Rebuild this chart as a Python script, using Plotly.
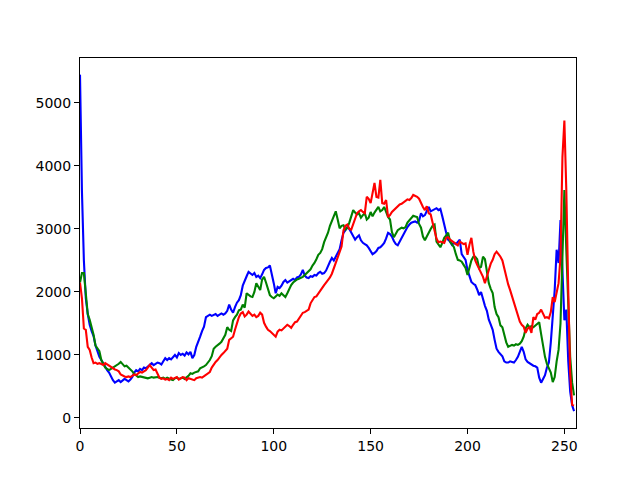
import plotly.graph_objects as go

bins = list(range(256))

blue = [5450,3600,2500,1900,1650,1480,1380,1300,1150,1050,
970,920,860,820,760,720,650,600,560,580,
600,570,590,620,600,580,610,650,720,760,
740,780,760,800,790,820,850,870,840,860,
880,870,850,900,950,920,950,930,970,1000,
960,1030,1000,1020,990,1040,1010,1050,950,1000,
1130,1200,1290,1380,1450,1600,1620,1640,1620,1630,
1650,1620,1640,1660,1640,1660,1700,1800,1720,1670,
1760,1830,1870,1950,2100,2190,2250,2320,2290,2270,
2300,2240,2260,2220,2280,2350,2380,2390,2420,2300,
2140,1980,2080,2060,2100,2160,2190,2150,2170,2200,
2210,2190,2230,2240,2280,2350,2260,2230,2220,2250,
2240,2270,2260,2300,2320,2290,2300,2340,2420,2480,
2540,2500,2560,2620,2680,2820,2940,2980,3030,3000,
2950,2880,2830,2870,2900,2820,2780,2760,2740,2700,
2640,2600,2620,2650,2700,2710,2740,2780,2850,2940,
2920,2880,2810,2760,2740,2800,2860,2900,2960,3030,
3070,3100,3110,3120,3100,3130,3250,3200,3220,3300,
3350,3280,3300,3320,3330,3300,3320,3200,3050,2940,
2830,2800,2750,2780,2760,2800,2830,2600,2550,2510,
2350,2250,2160,2130,2110,2040,1950,2000,1870,1780,
1700,1560,1480,1400,1240,1100,1050,1020,980,900,
880,880,900,890,880,920,970,1050,1130,1050,
930,890,870,840,830,820,800,640,560,620,
680,800,880,1200,1600,2030,2670,2460,3140,2200,
1550,1720,900,420,200,110]

green = [2150,2300,2300,1950,1650,1560,1450,1320,1150,1100,
1060,920,850,800,780,760,780,800,810,830,
860,890,850,820,830,800,780,740,700,680,
650,660,650,640,640,630,640,650,640,650,
650,640,630,640,620,640,620,610,600,630,
640,620,630,640,620,640,670,710,700,720,
730,740,790,800,820,840,880,920,980,1100,
1130,1150,1180,1210,1270,1320,1440,1400,1380,1550,
1600,1640,1710,1720,1800,1750,1980,1950,1930,1920,
2000,2140,2080,2030,2200,2240,2150,2030,1950,1920,
1900,1930,1960,1940,1980,1950,1920,1980,2050,2110,
2150,2180,2200,2210,2220,2240,2270,2300,2330,2360,
2420,2460,2520,2590,2620,2680,2790,2860,2940,3050,
3130,3200,3280,3150,3010,3050,3060,2990,3020,3100,
3200,3300,3260,3230,3250,3180,3220,3250,3150,3180,
3270,3200,3260,3300,3350,3280,3300,3350,3260,3190,
3150,2950,2870,2920,2980,3000,3020,3010,3030,3100,
3140,3180,3210,3200,3190,3080,3020,2880,2820,2880,
2950,3000,3050,3070,2800,2760,2710,2780,2860,2900,
2940,2800,2760,2710,2600,2510,2500,2480,2430,2380,
2270,2400,2500,2560,2560,2520,2380,2400,2560,2520,
2300,2140,2050,1985,1760,1650,1600,1470,1440,1320,
1200,1130,1150,1160,1150,1170,1160,1180,1220,1290,
1420,1480,1440,1460,1440,1470,1500,1520,1330,1150,
970,860,790,720,570,650,900,1080,1500,2550,
3620,2670,1760,970,560,360]

red = [2150,1900,1420,1400,1130,1080,960,870,880,860,
870,850,840,870,850,820,810,790,770,760,
740,690,670,660,650,660,650,670,690,680,
700,730,720,740,760,800,840,800,760,770,
700,640,620,630,610,620,600,640,620,630,
650,610,630,650,640,600,630,620,610,600,
630,640,650,640,660,690,710,730,800,850,
890,920,970,1000,1030,1070,1100,1240,1270,1290,
1400,1510,1600,1660,1680,1610,1640,1690,1660,1620,
1640,1600,1620,1670,1640,1510,1450,1400,1380,1350,
1320,1290,1370,1400,1390,1420,1450,1480,1460,1430,
1480,1520,1530,1580,1620,1670,1680,1700,1720,1820,
1880,1920,1930,1980,2030,2070,2110,2150,2190,2230,
2290,2380,2460,2550,2640,2720,2980,3050,3070,3000,
2990,3090,3150,3250,3280,3300,3270,3250,3510,3480,
3410,3600,3730,3510,3500,3780,3410,3400,3460,3190,
3220,3270,3300,3330,3370,3390,3400,3420,3440,3470,
3460,3490,3540,3530,3510,3480,3410,3350,3300,3360,
3250,3230,3100,2990,2850,2790,2800,2790,2780,2860,
2870,2830,2810,2790,2770,2740,2800,2780,2760,2770,
2590,2750,2860,2640,2500,2430,2360,2300,2240,2140,
2260,2350,2450,2510,2600,2640,2600,2560,2500,2370,
2200,2120,2030,1930,1830,1720,1650,1530,1480,1450,
1350,1420,1440,1350,1600,1560,1650,1670,1720,1650,
1590,1600,1580,1680,1920,1840,2000,2140,2550,4140,
4720,3620,2030,710,210,200]

x_ticks = [0, 50, 100, 150, 200, 250]
y_ticks = [0, 1000, 2000, 3000, 4000, 5000]

fig = go.Figure()
for vals, col in [(blue, "#0000ff"), (green, "#008000"), (red, "#ff0000")]:
    fig.add_trace(go.Scatter(x=bins, y=vals, mode="lines",
                             line=dict(color=col, width=2.1),
                             showlegend=False, hoverinfo="skip"))

axis_common = dict(showline=True, mirror=True, linecolor="black", linewidth=1.1,
                   ticks="outside", ticklen=5, tickwidth=1.1, tickcolor="black",
                   showgrid=False, zeroline=False,
                   tickfont=dict(family="DejaVu Sans", size=14, color="black"))

fig.update_layout(
    width=640, height=480,
    margin=dict(l=72, r=72, t=50, b=60),
    paper_bgcolor="white", plot_bgcolor="white",
    xaxis=dict(range=[0, 256], tickvals=x_ticks, **axis_common),
    yaxis=dict(range=[-159, 5714], tickvals=y_ticks, **axis_common),
)

fig.write_html("out.html")
